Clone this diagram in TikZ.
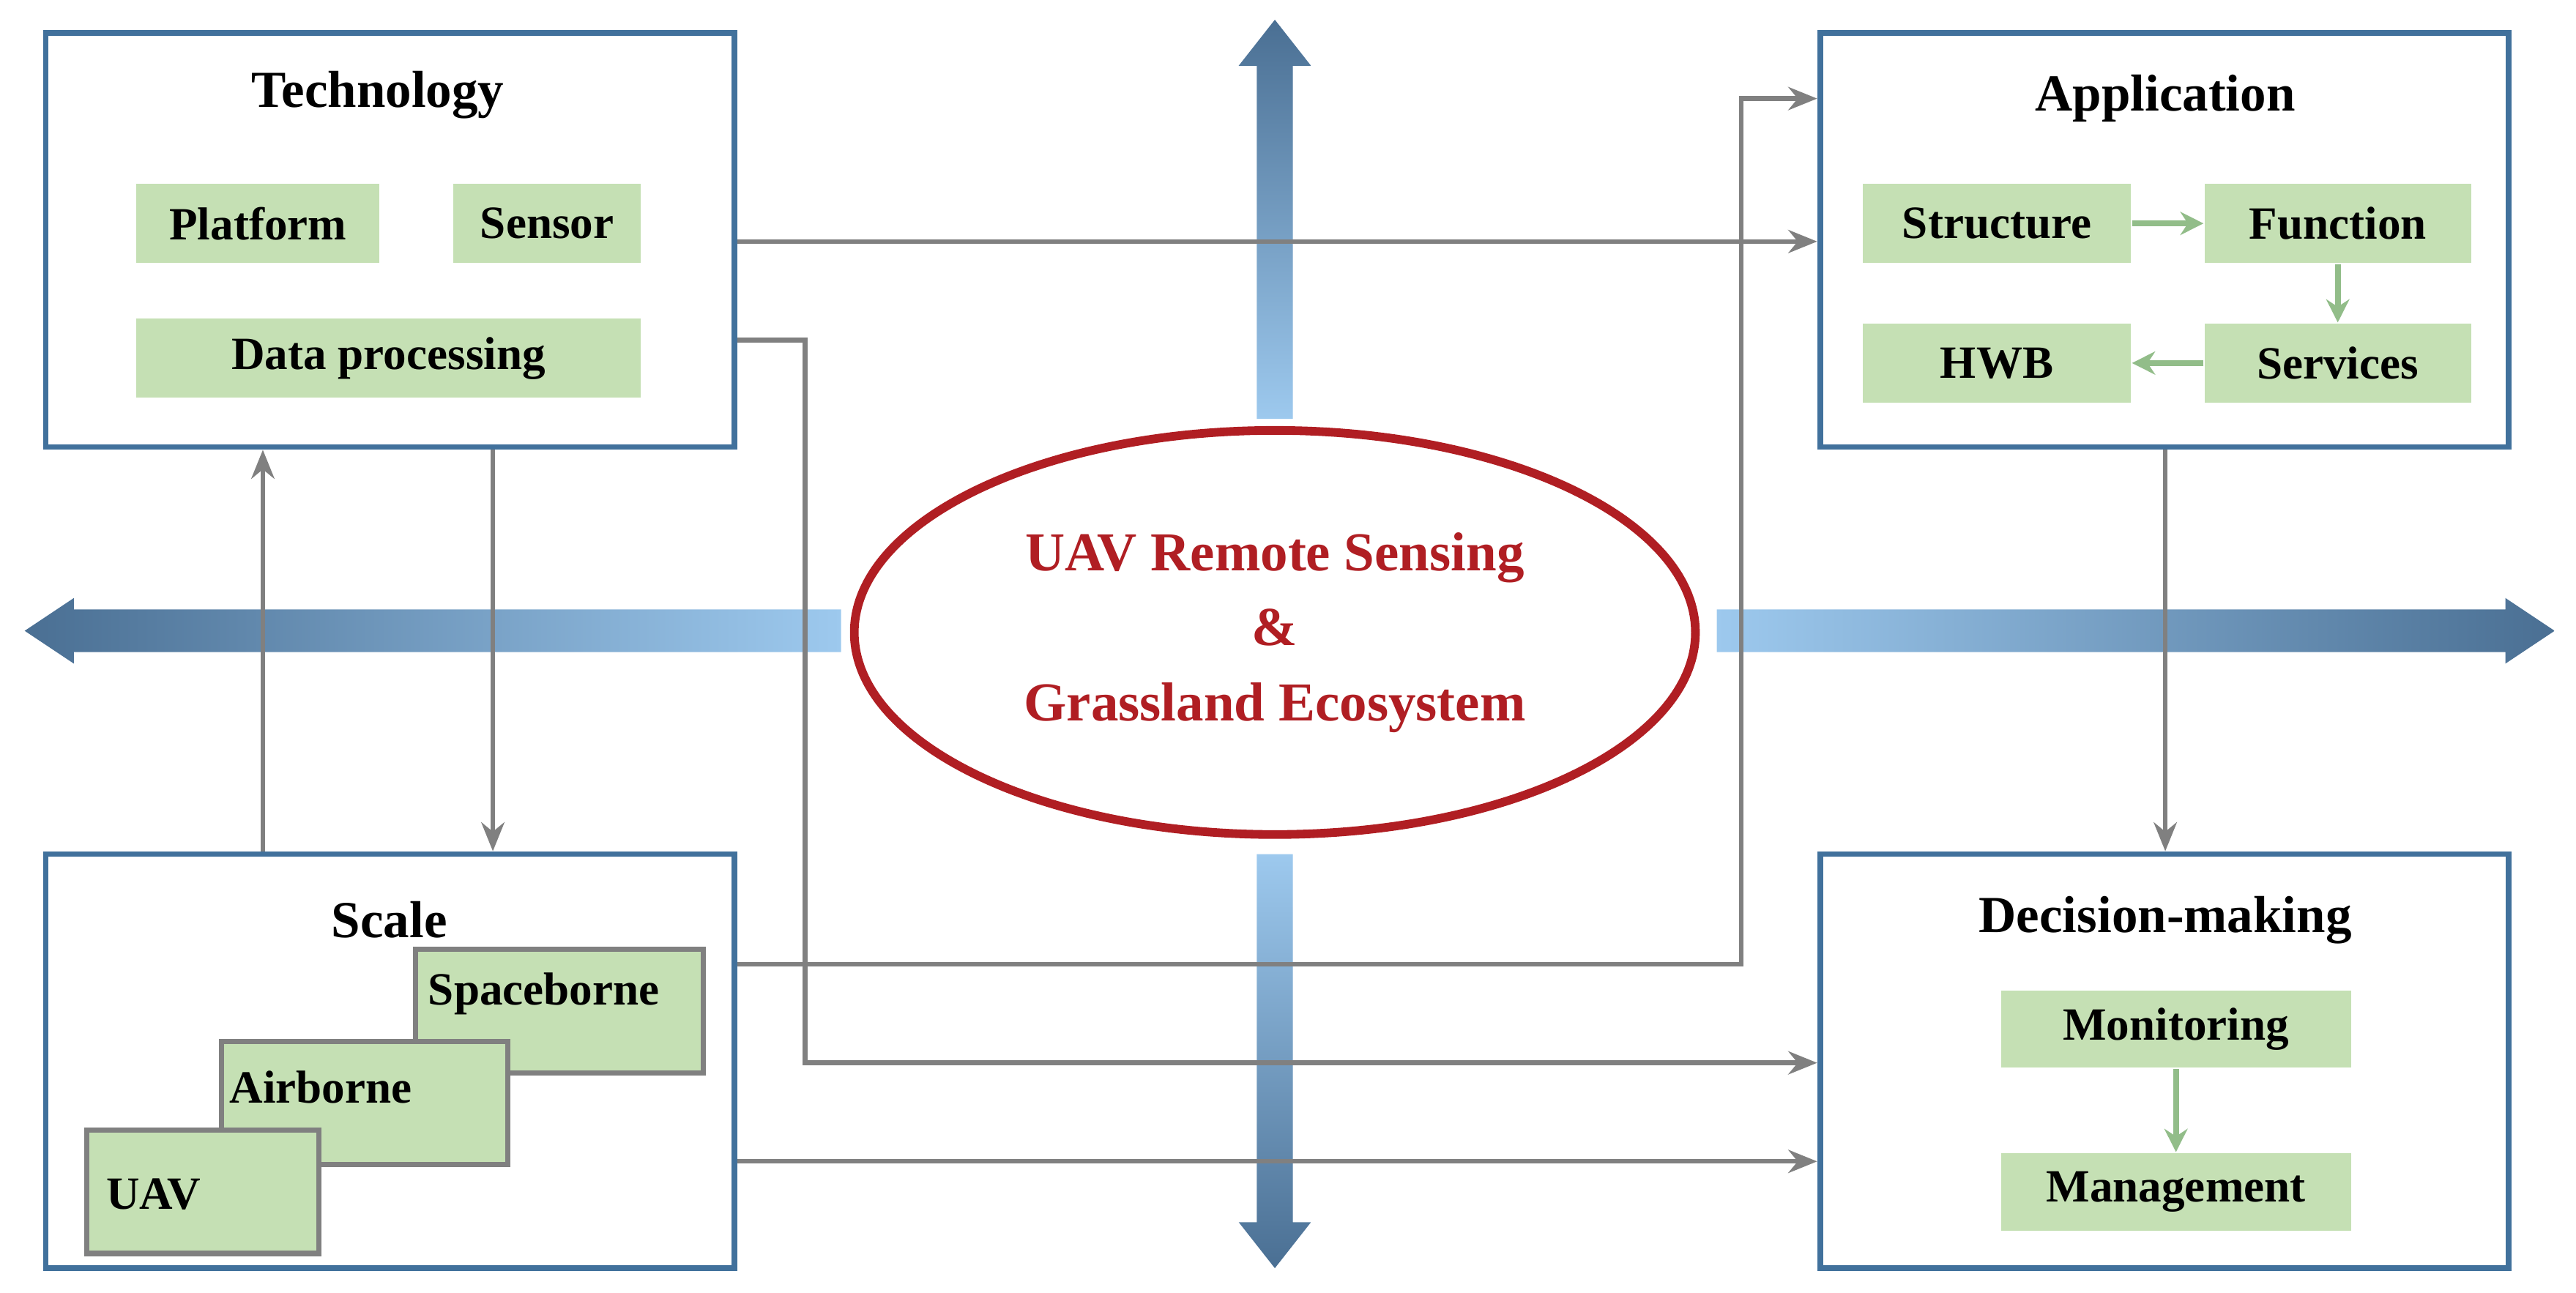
\documentclass[tikz,border=0pt]{standalone}
\usepackage{fontspec}
\setmainfont{Liberation Serif}
\usetikzlibrary{arrows.meta}
\definecolor{bbor}{HTML}{41719C}
\definecolor{gfill}{HTML}{C5E0B4}
\definecolor{gline}{HTML}{808080}
\definecolor{dred}{HTML}{B01E23}
\definecolor{darkb}{HTML}{4A6F93}
\definecolor{lightb}{HTML}{9DC9EE}
\begin{document}
\begin{tikzpicture}[x=0.01cm,y=-0.01cm,
 bigbox/.style={draw=bbor,line width=1pt,fill=white,minimum width=4.19cm,minimum height=2.52cm,inner sep=0},
 title/.style={font=\bfseries\fontsize{9}{10}\selectfont},
 gbox/.style={fill=gfill,minimum height=0.48cm,inner sep=0,font=\bfseries\fontsize{8}{9}\selectfont},
 sbox/.style={fill=gfill,draw=gray,line width=0.9pt,minimum height=0.75cm,inner sep=0},
 conn/.style={draw=gline,line width=0.8pt,-{Stealth[length=5pt,width=4pt]}},
 garr/.style={draw=gfill!80!green!60!gray,line width=1pt,-{Stealth[length=4pt,width=4pt]}}]
\useasboundingbox (0,0) rectangle (1568,787);
% big arrows
\shade[left color=darkb,right color=lightb] (15,384) -- (45,364) -- (45,371) -- (512,371) -- (512,397) -- (45,397) -- (45,404) -- cycle;
\shade[left color=lightb,right color=darkb] (1555,384) -- (1525,364) -- (1525,371) -- (1045,371) -- (1045,397) -- (1525,397) -- (1525,404) -- cycle;
\shade[top color=darkb,bottom color=lightb] (776,12) -- (754,40) -- (765,40) -- (765,255) -- (787,255) -- (787,40) -- (798,40) -- cycle;
\shade[top color=lightb,bottom color=darkb] (776,772) -- (754,744) -- (765,744) -- (765,520) -- (787,520) -- (787,744) -- (798,744) -- cycle;
% boxes
\node[bigbox] (tech) at (237.5,146) {};
\node[bigbox] (app) at (1317.5,146) {};
\node[bigbox] (scale) at (237.5,646) {};
\node[bigbox] (dec) at (1317.5,646) {};
\node[title] (techt) at (230,58) {Technology};
\node[title] (appt) at (1318,60) {Application};
\node[title] (scalet) at (237,560) {Scale};
\node[title] (dect) at (1318,560) {Decision-making};
\node[gbox,minimum width=1.48cm] (plat) at (157,136) {Platform};
\node[gbox,minimum width=1.14cm] (sens) at (333,136) {Sensor};
\node[gbox,minimum width=3.07cm] (data) at (236.5,218) {Data processing};
\node[gbox,minimum width=1.63cm] (str) at (1215.5,136) {Structure};
\node[gbox,minimum width=1.62cm] (fun) at (1423,136) {Function};
\node[gbox,minimum width=1.63cm] (hwb) at (1215.5,221) {HWB};
\node[gbox,minimum width=1.62cm] (ser) at (1423,221) {Services};
\node[gbox,minimum width=2.13cm,minimum height=0.47cm] (mon) at (1324.5,626.5) {Monitoring};
\node[gbox,minimum width=2.13cm,minimum height=0.47cm] (man) at (1324.5,725.5) {Management};
\node[sbox,minimum width=1.75cm] (space) at (340.5,615.5) {};
\node[sbox,minimum width=1.74cm] (air) at (222,671.5) {};
\node[sbox,minimum width=1.41cm] (uav) at (123.5,725.5) {};
\node[gbox,fill=none,anchor=west] (spacet) at (260,605) {Spaceborne};
\node[gbox,fill=none,anchor=west] (airt) at (139,662) {Airborne};
\node[gbox,fill=none,anchor=west] (uavt) at (64,727) {UAV};
% ellipse
\draw[dred,line width=1.5pt,fill=white] (776,385) ellipse [x radius=256,y radius=123];
\node[text=dred,font=\bfseries\fontsize{9.5}{13}\selectfont,align=center] (core) at (776,385) {UAV Remote Sensing\\\&\\Grassland Ecosystem};
% green arrows
\draw[garr] (str.east) -- (fun.west);
\draw[garr] (fun.south) -- (ser.north);
\draw[garr] (ser.west) -- (hwb.east);
\draw[garr] (mon.south) -- (man.north);
% gray connectors
\draw[conn] (tech.east |- 0,147) -- (app.west |- 0,147);
\draw[conn] (tech.east |- 0,207) -- (490,207) -- (490,647) -- (dec.west |- 0,647);
\draw[conn] (tech.south -| 300,0) -- (scale.north -| 300,0);
\draw[conn] (scale.north -| 160,0) -- (tech.south -| 160,0);
\draw[conn] (scale.east |- 0,587) -- (1060,587) -- (1060,60) -- (app.west |- 0,60);
\draw[conn] (scale.east |- 0,707) -- (dec.west |- 0,707);
\draw[conn] (app.south -| 1318,0) -- (dec.north -| 1318,0);
\end{tikzpicture}
\end{document}
